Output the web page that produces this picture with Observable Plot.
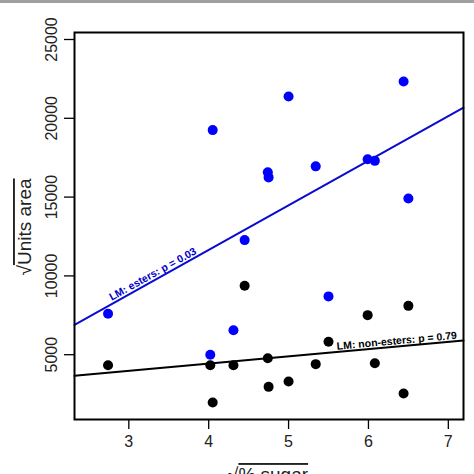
<!DOCTYPE html>
<html>
<head>
<meta charset="utf-8">
<script src="https://cdn.jsdelivr.net/npm/d3@7"></script>
<script src="https://cdn.jsdelivr.net/npm/@observablehq/plot@0.6"></script>
<style>
  html, body { margin: 0; padding: 0; background: #fff; }
  #topbar { position: absolute; left: 0; top: 0; width: 474px; height: 3px; background: #a0a0a0; }
  #chart { position: absolute; left: 0; top: 0; }
  svg { font-family: "Liberation Sans", Arial, sans-serif; }
</style>
</head>
<body>
<div id="chart"></div>
<div id="topbar"></div>
<script>
// sqrt(% sugar) for each sample (shared by both groups)
const sugar = [2.74, 4.02, 4.05, 4.31, 4.45, 4.74, 4.75, 5.00, 5.34, 5.50, 5.99, 6.08, 6.44, 6.50];
// sqrt(units area), esters (blue)
const esters = [7600, 5000, 19250, 6550, 12270, 16580, 16250, 21380, 16950, 8700, 17400, 17300, 22340, 14910];
// sqrt(units area), non-esters (black)
const nonEsters = [4330, 4330, 1970, 4330, 9370, 4780, 2960, 3300, 4400, 5820, 7510, 4460, 2540, 8100];

// fitted linear-model lines read at the plot edges
const fitX = [2.32, 7.19];
const estersFit = [6900, 20670];
const nonEstersFit = [3660, 5900];

const xTicks = [3, 4, 5, 6, 7];
const yTicks = [5000, 10000, 15000, 20000, 25000];

const labelText = ["LM: esters: p = 0.03", "LM: non-esters: p = 0.79"];
const labelX = [3.30, 6.355];
const labelY = [9670, 5240];
const labelAngle = [-29, -5.2];
const labelColor = ["#0000c8", "black"];
const labelDy = [-7, -10];

const blue = "#0000ff";
const lineBlue = "#0a0ad2";

const pts = [
  ...sugar.map((x, i) => ({x, y: nonEsters[i], g: "non"})),
  ...sugar.map((x, i) => ({x, y: esters[i], g: "est"}))
];
const fits = fitX.map((x, i) => ({x, e: estersFit[i], n: nonEstersFit[i]}));
const labels = labelText.map((t, i) => ({t, x: labelX[i], y: labelY[i], a: labelAngle[i], c: labelColor[i], dy: labelDy[i]}));

const plot = Plot.plot({
  width: 474,
  height: 474,
  marginLeft: 74,
  marginRight: 11,
  marginTop: 32,
  marginBottom: 55,
  style: {fontFamily: '"Liberation Sans", Arial, sans-serif', background: "white"},
  x: {domain: [2.32, 7.19]},
  y: {domain: [888, 25444]},
  marks: [
    Plot.axisX({ticks: xTicks, tickFormat: d3.format("d"), tickSize: 10, tickPadding: 6, fontSize: 16, label: null, stroke: "black", strokeWidth: 1.3, color: "#222"}),
    Plot.axisY({ticks: yTicks, tickFormat: d3.format("d"), tickSize: 10, tickPadding: 8, fontSize: 16, tickRotate: -90, label: null, stroke: "black", strokeWidth: 1.3, color: "#222"}),
    Plot.line(fits, {x: "x", y: "e", stroke: lineBlue, strokeWidth: 2}),
    Plot.line(fits, {x: "x", y: "n", stroke: "black", strokeWidth: 2}),
    Plot.dot(pts, {x: "x", y: "y", r: 5, fill: d => d.g === "est" ? blue : "black", stroke: "none"}),
    Plot.text(labels.slice(0, 1), {x: "x", y: "y", text: "t", rotate: "a", fill: "c", fontSize: 10.5, fontWeight: "bold", dy: labelDy[0]}),
    Plot.text(labels.slice(1), {x: "x", y: "y", text: "t", rotate: "a", fill: "c", fontSize: 10.5, fontWeight: "bold", dy: labelDy[1]}),
    Plot.frame({stroke: "black", strokeWidth: 2})
  ]
});

document.getElementById("chart").appendChild(plot);

// axis titles with radical sign + overline (as in R plotmath sqrt)
const svg = d3.select(plot);
const yl = svg.append("text")
  .attr("transform", "translate(31,227) rotate(-90)")
  .attr("text-anchor", "middle")
  .attr("font-size", 19)
  .attr("fill", "#222");
yl.append("tspan").text("√");
yl.append("tspan").style("text-decoration", "overline").text("Units area");

const xl = svg.append("text")
  .attr("transform", "translate(268,481)")
  .attr("text-anchor", "middle")
  .attr("font-size", 19)
  .attr("fill", "#222");
xl.append("tspan").text("√");
xl.append("tspan").style("text-decoration", "overline").text("% sugar");
</script>
</body>
</html>
